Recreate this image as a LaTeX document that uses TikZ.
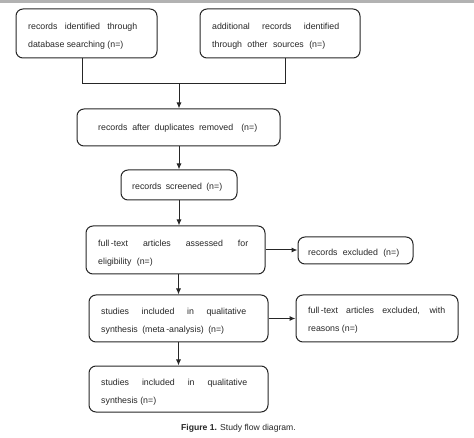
\documentclass[tikz,border=0pt]{standalone}
\usepackage{fontspec}
\setmainfont{Liberation Sans}
\usetikzlibrary{arrows.meta}
\newcommand{\tl}[2]{\parbox[t]{220pt}{#1\\#2}}
\begin{document}
\begin{tikzpicture}[x=1pt,y=-1pt,
  box/.style={draw=black!85, line width=1pt, rounded corners=7pt, inner sep=0pt},
  txt/.style={anchor=base west, inner sep=0pt, font=\fontsize{8.8}{18.5}\selectfont, text=black!85},
  arr/.style={-{Latex[length=6pt,width=5pt]}, line width=1pt, draw=black!85},
  ln/.style={line width=1pt, draw=black!85}]
\useasboundingbox (0,0) rectangle (474,438);
\fill[black!30] (0,0) rectangle (474,3);
% boxes
\node[box, minimum width=141pt, minimum height=49pt] (A) at (86.5,33.5) {};
\node[box, minimum width=160pt, minimum height=49pt] (B) at (280,33.5) {};
\node[box, minimum width=203pt, minimum height=37pt] (C) at (178.5,127.5) {};
\node[box, minimum width=116pt, minimum height=30pt] (D) at (179,185) {};
\node[box, minimum width=179pt, minimum height=48pt] (E) at (175.5,250) {};
\node[box, minimum width=115pt, minimum height=27pt] (F) at (355.5,250.5) {};
\node[box, minimum width=179pt, minimum height=47pt] (G) at (178.5,318.5) {};
\node[box, minimum width=162pt, minimum height=47pt] (H) at (377,318.5) {};
\node[box, minimum width=179pt, minimum height=46pt] (I) at (178.5,389) {};
% texts
\node[txt] (tA) at (28,29.2) {\tl{\makebox[109pt][s]{records identified through}}{database searching (n=)}};
\node[txt] (tB) at (212,29.2) {\tl{\makebox[127pt][s]{additional records identified}}{\makebox[113pt][s]{through other sources (n=)}}};
\node[txt] (tC) at (98,130.2) {\makebox[159pt][s]{records after duplicates removed\hspace{8pt}(n=)}};
\node[txt] (tD) at (132,189.2) {\makebox[90pt][s]{records screened (n=)}};
\node[txt] (tE) at (98,246.2) {\tl{\makebox[150pt][s]{full\kern1.5pt-text articles assessed for}}{eligibility\hspace{3pt} (n=)}};
\node[txt] (tF) at (308,255.2) {\makebox[91pt][s]{records excluded (n=)}};
\node[txt] (tG) at (101,314.2) {\tl{\makebox[145pt][s]{studies included in qualitative}}{\makebox[123pt][s]{synthesis (meta\kern1.5pt-analysis) (n=)}}};
\node[txt] (tH) at (308,313.2) {\tl{\makebox[137pt][s]{full\kern1.5pt-text articles excluded, with}}{reasons (n=)}};
\node[txt] (tI) at (101,385.2) {\tl{\makebox[146pt][s]{studies included in qualitative}}{synthesis (n=)}};
\node[txt, font=\fontsize{8.6}{10}\selectfont] (cap) at (181,430) {\textbf{Figure 1.} Study flow diagram.};
% connectors
\coordinate (jl) at (82,84);
\coordinate (jr) at (285,84);
\coordinate (j) at (179,84);
\draw[ln] (A.south -| jl) -- (jl) -- (jr) -- (B.south -| jr);
\draw[arr] (j) -- (C.north -| j);
\draw[arr] (C.south -| D.north) -- (D.north);
\draw[arr] (D.south) -- (D.south |- E.north);
\draw[arr] (E.east) -- (E.east -| F.west);
\draw[arr] (G.north |- E.south) -- (G.north);
\draw[arr] (G.east) -- (G.east -| H.west);
\draw[arr] (G.south) -- (I.north);
\end{tikzpicture}
\end{document}
